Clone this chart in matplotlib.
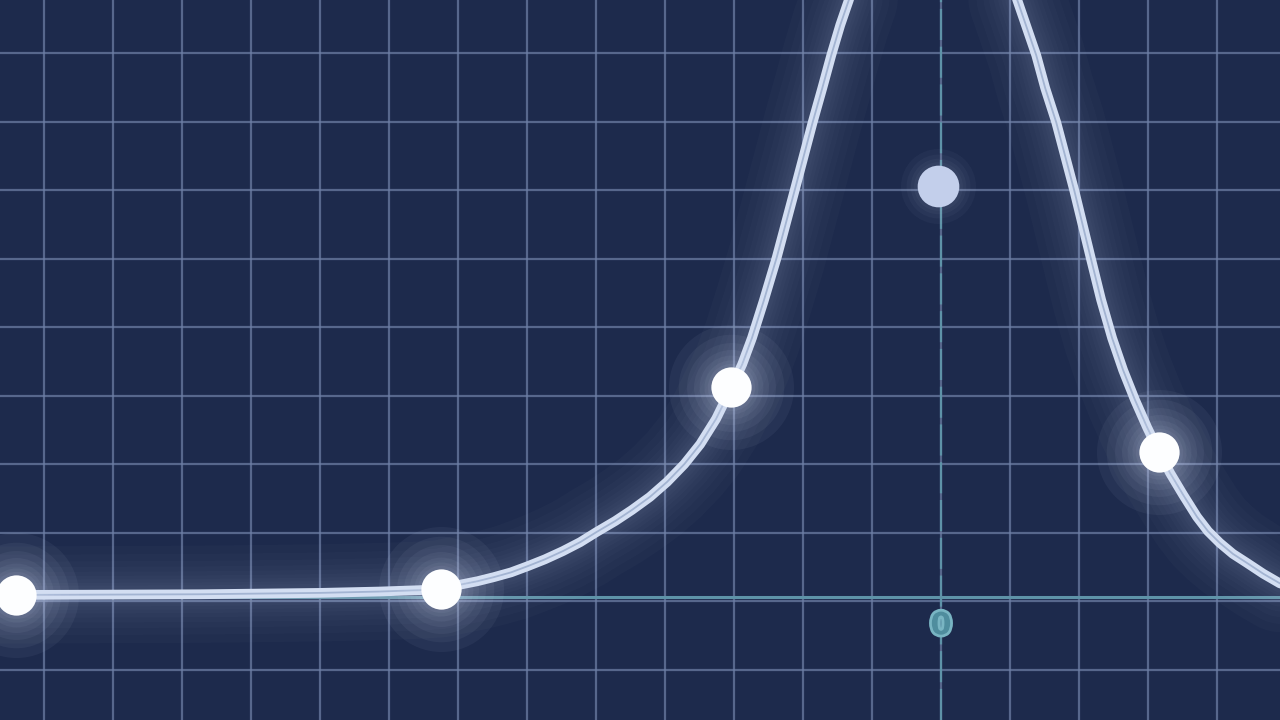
import numpy as np
import matplotlib
matplotlib.use("Agg")
import matplotlib.pyplot as plt
import matplotlib.patheffects as pe

# curve, in grid units (origin where the axes cross)
curve_x = [-13.78, -13.41, -10.74, -9.00, -8.13, -7.55, -7.25, -6.97, -6.72, -6.48,
           -6.23, -5.99, -5.74, -5.48, -5.23, -4.99, -4.72, -4.48, -4.22, -3.97,
           -3.72, -3.49, -3.26, -3.04, -2.88, -2.74, -2.57, -2.38, -2.12, -1.86,
           -1.72, -1.59, -1.46, -1.32, -1.14, -0.94, -0.70, -0.42, -0.12, 0.19,
           0.46, 0.71, 0.91, 1.09, 1.23, 1.38, 1.51, 1.67, 1.93, 2.17,
           2.32, 2.48, 2.64, 2.81, 2.99, 3.16, 3.32, 3.51, 3.71, 3.87,
           4.04, 4.23, 4.43, 4.67, 4.91, 5.13]
curve_y = [0.03, 0.03, 0.04, 0.06, 0.08, 0.10, 0.12, 0.18, 0.23, 0.29,
           0.36, 0.45, 0.55, 0.67, 0.80, 0.95, 1.11, 1.27, 1.46, 1.68,
           1.94, 2.23, 2.60, 3.05, 3.40, 3.78, 4.32, 4.96, 5.94, 6.93,
           7.43, 7.91, 8.35, 8.76, 9.20, 9.59, 9.91, 10.12, 10.19, 10.12,
           9.91, 9.59, 9.20, 8.76, 8.35, 7.91, 7.43, 6.93, 5.94, 4.95,
           4.34, 3.78, 3.31, 2.88, 2.47, 2.12, 1.81, 1.49, 1.17, 0.96,
           0.79, 0.63, 0.50, 0.34, 0.20, 0.13]

# highlighted points on the curve
pts_x = [-13.41, -7.25, -3.04, 3.16]
pts_y = [0.03, 0.12, 3.07, 2.12]

# the pale point above the origin
pale_x = [-0.05]
pale_y = [6.0]

grid_x = np.arange(-13, 5)
grid_y = np.arange(-1, 9) - 0.06

BG = '#1d2a4c'
GRID = '#6e7fa6'
AXIS = '#5e93a8'

fig = plt.figure(figsize=(12.8, 7.2), dpi=100, facecolor=BG)
ax = fig.add_axes([0, 0, 1, 1], facecolor=BG)
ax.set_xlim(-941 / 69, 339 / 69)
ax.set_ylim(-123 / 68.5, 597 / 68.5)

ax.set_xticks(grid_x)
ax.set_yticks(grid_y)
ax.grid(True, color=GRID, lw=1.6, alpha=0.72)
ax.tick_params(length=0, labelbottom=False, labelleft=False)
for s in ax.spines.values():
    s.set_visible(False)

# axes through the origin
ax.axhline(0, color=AXIS, lw=2.2, zorder=2)
ax.axvline(0, color=AXIS, lw=1.6, ls=(0, (14, 3)), zorder=2)
ax.text(0, -0.42, '0', color='#4f8d9e', fontsize=22, fontweight='bold',
        ha='center', va='center', zorder=3,
        path_effects=[pe.withStroke(linewidth=4, foreground='#79b5c3')])

# soft glow around the curve
for lw in [70, 58, 48, 40, 33, 27, 22, 17, 13]:
    ax.plot(curve_x, curve_y, color='#c8d6f5', lw=lw, alpha=0.022,
            solid_capstyle='round', solid_joinstyle='round', zorder=3)
ax.plot(curve_x, curve_y, color='#d3def2', lw=7, zorder=4,
        solid_capstyle='round', solid_joinstyle='round')
ax.plot(curve_x, curve_y, color='#a3b4d2', lw=1.3, zorder=5, solid_joinstyle='round')

# glowing markers
for ms in [90, 76, 64, 54, 46, 39, 34]:
    ax.plot(pts_x, pts_y, 'o', ms=ms, color='#dfe8ff', alpha=0.05, mec='none', zorder=6)
ax.plot(pts_x, pts_y, 'o', ms=29, color='#fdfeff', mec='none', zorder=7)

for ms in [54, 46, 40, 35]:
    ax.plot(pale_x, pale_y, 'o', ms=ms, color='#c5d1ee', alpha=0.04, mec='none', zorder=6)
ax.plot(pale_x, pale_y, 'o', ms=30, color='#c3cfeb', mec='none', zorder=7)

fig.savefig('out.png', dpi=100, facecolor=BG)
